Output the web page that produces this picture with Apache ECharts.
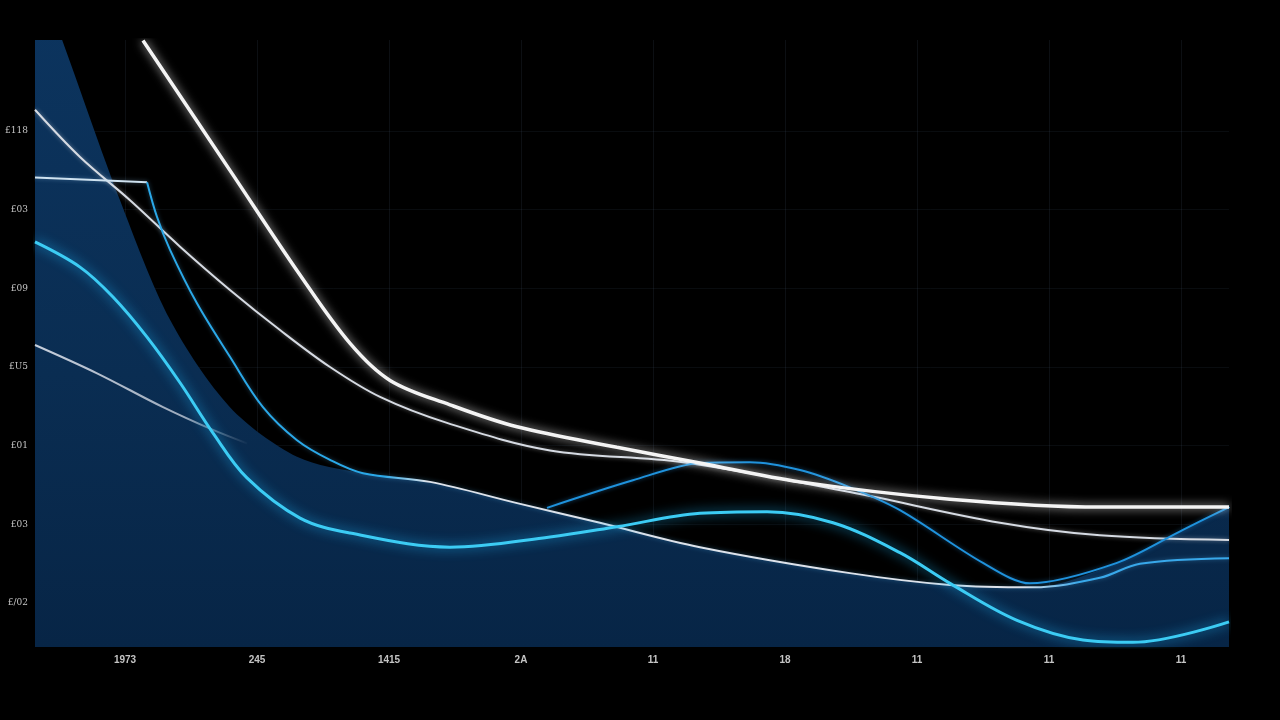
<!DOCTYPE html>
<html>
<head>
<meta charset="utf-8">
<style>html,body{margin:0;padding:0;background:#000;}#c{width:1280px;height:720px;}</style>
<script src="https://cdn.jsdelivr.net/npm/echarts@6/dist/echarts.min.js"></script>
</head>
<body>
<div id="c"></div>
<script>
// Tick labels (as they appear in the reference)
const xTickLabels = ["1973", "245", "1415", "2A", "11", "18", "11", "11", "11"];
const yTickLabels = ["£/02", "£03", "£01", "£U5", "£09", "£03", "£118"];
const xTicks = [0, 1, 2, 3, 4, 5, 6, 7, 8];
const yTicks = [0, 1, 2, 3, 4, 5, 6];

// Series values [x, y]
const lineA = [[0.136,7.15],[0.795,5.50],[1.326,4.17],[1.705,3.30],[2.008,2.83],[2.462,2.52],[2.970,2.24],[3.727,1.98],[4.356,1.78],[5.114,1.54],[6.25,1.32],[7.386,1.22],[8.364,1.22]];
const lineB = [[-0.682,6.27],[-0.341,5.67],[0.038,5.12],[0.417,4.53],[0.795,3.98],[1.174,3.47],[1.553,3.00],[1.932,2.62],[2.439,2.29],[3.220,1.94],[4.227,1.79],[5.492,1.41],[6.629,1.02],[7.386,0.86],[8.364,0.80]];
const lineC1 = [[-0.682,5.41],[0.167,5.35]];
const lineC2 = [[0.167,5.35],[0.242,4.91],[0.341,4.49],[0.545,3.81],[0.795,3.13],[1.045,2.49],[1.303,2.07],[1.553,1.82],[1.803,1.65],[2.311,1.54],[2.970,1.27],[3.598,1.02],[4.356,0.71],[5.492,0.38],[6.25,0.23],[6.879,0.20],[7.386,0.32],[7.689,0.50],[8.364,0.57]];
const lineD = [[3.197,1.21],[3.848,1.56],[4.356,1.78],[4.735,1.79],[5.114,1.69],[5.492,1.47],[5.871,1.18],[6.5,0.51],[6.856,0.25],[7.515,0.51],[8.015,0.93],[8.364,1.22]];
const lineE = [[-0.682,4.59],[-0.341,4.27],[-0.091,3.89],[0.167,3.38],[0.417,2.80],[0.667,2.16],[0.924,1.59],[1.326,1.08],[1.705,0.89],[2.462,0.71],[3.220,0.84],[3.727,0.97],[4.356,1.14],[4.864,1.16],[5.364,1.02],[5.871,0.64],[6.25,0.25],[6.758,-0.22],[7.258,-0.47],[7.636,-0.50],[8.364,-0.24]];
const lineF = [[-0.682,3.28],[-0.212,2.92],[0.288,2.49],[0.667,2.20],[0.924,2.03]];
const areaTop = [[-0.682,8.08],[-0.477,7.16],[-0.038,5.12],[0.341,3.60],[0.795,2.49],[1.303,1.86],[1.803,1.65],[2.311,1.54],[2.970,1.27],[3.598,1.02],[4.356,0.71],[5.492,0.38],[6.25,0.23],[6.879,0.20],[7.515,0.51],[8.015,0.93],[8.364,1.22]];

const chart = echarts.init(document.getElementById('c'));
const glow = (c, b) => ({ shadowColor: c, shadowBlur: b });
const S = 0.35;

chart.setOption({
  backgroundColor: '#000',
  animation: false,
  grid: { left: 35, right: 51, top: 40, bottom: 73 },
  xAxis: {
    type: 'value', min: -0.682, max: 8.364,
    axisLine: { show: false },
    axisTick: { show: false, customValues: xTicks },
    axisLabel: { customValues: xTicks, color: '#c4c4c4', fontSize: 10, fontWeight: 'bold', margin: 8,
      formatter: v => xTickLabels[Math.round(v)] },
    splitLine: { show: true, lineStyle: { color: 'rgba(130,170,210,0.09)', width: 1 } }
  },
  yAxis: {
    type: 'value', min: -0.559, max: 7.157,
    axisLine: { show: false },
    axisTick: { show: false, customValues: yTicks },
    axisLabel: { customValues: yTicks, color: '#c4c4c4', fontSize: 9, fontFamily: 'DejaVu Serif', margin: 7,
      formatter: v => yTickLabels[Math.round(v)] },
    splitLine: { show: true, lineStyle: { color: 'rgba(130,170,210,0.07)', width: 1 } }
  },
  series: [
    { name: 'area', type: 'line', data: areaTop, smooth: 0.3, symbol: 'none', z: 1,
      lineStyle: { width: 0 },
      areaStyle: { origin: 'start', opacity: 1,
        color: new echarts.graphic.LinearGradient(0, 0, 0, 1, [
          { offset: 0, color: '#0c3560' }, { offset: 0.6, color: '#0a2d52' }, { offset: 1, color: '#072546' }]) } },
    { name: 'F', type: 'line', data: lineF, smooth: S, symbol: 'none', z: 3,
      lineStyle: { width: 2, color: new echarts.graphic.LinearGradient(0, 0, 1, 0, [
        { offset: 0, color: 'rgba(220,225,235,0.9)' }, { offset: 0.7, color: 'rgba(220,225,235,0.7)' }, { offset: 1, color: 'rgba(220,225,235,0)' }]) } },
    { name: 'B', type: 'line', data: lineB, smooth: S, symbol: 'none', z: 3,
      lineStyle: { width: 2, color: '#d6dbe3', ...glow('rgba(255,255,255,0.4)', 4) } },
    { name: 'C1', type: 'line', data: lineC1, smooth: false, symbol: 'none', z: 3,
      lineStyle: { width: 2, color: '#cfe2f0', ...glow('rgba(150,200,240,0.4)', 4) } },
    { name: 'C2', type: 'line', data: lineC2, smooth: S, symbol: 'none', z: 3,
      lineStyle: { width: 2, ...glow('rgba(80,180,240,0.4)', 4),
        color: new echarts.graphic.LinearGradient(0, 0, 1, 0, [
          { offset: 0, color: '#2aa8e8' }, { offset: 0.22, color: '#2aa8e8' },
          { offset: 0.26, color: '#dde2ea' }, { offset: 0.81, color: '#dde2ea' },
          { offset: 0.86, color: '#38a8ea' }, { offset: 1, color: '#38a8ea' }]) } },
    { name: 'D', type: 'line', data: lineD, smooth: 0.3, symbol: 'none', z: 3,
      lineStyle: { width: 2, color: '#1f92dc', ...glow('rgba(40,150,230,0.5)', 4) } },
    { name: 'E', type: 'line', data: lineE, smooth: S, symbol: 'none', z: 4,
      lineStyle: { width: 3, color: '#3cccf4', ...glow('rgba(30,180,245,0.9)', 12) } },
    { name: 'A', type: 'line', data: lineA, smooth: S, symbol: 'none', z: 5,
      lineStyle: { width: 3.5, color: '#f4f4f4', ...glow('rgba(255,255,255,0.8)', 10) } }
  ]
});
</script>
</body>
</html>
